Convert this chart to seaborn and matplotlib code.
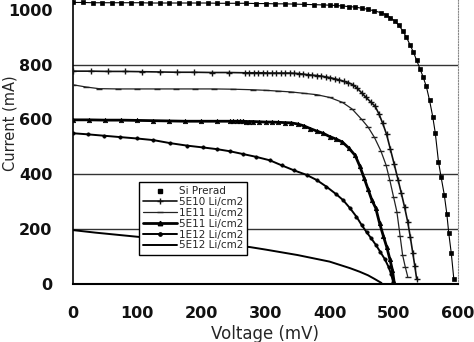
import matplotlib
matplotlib.use("Agg")
import matplotlib.pyplot as plt
from matplotlib.lines import Line2D
import seaborn as sns
import pandas as pd

# ---------------- data ----------------
labels = ["Si Prerad", "5E10 Li/cm2", "1E11 Li/cm2", "5E11 Li/cm2", "1E12 Li/cm2", "5E12 Li/cm2"]

v_si = [0, 15, 30, 45, 60, 75, 90, 105, 120, 135, 150, 165, 180, 195, 210, 225, 240, 255, 270, 285, 300,
        315, 330, 345, 360, 375, 390, 400, 410, 420, 430, 440, 450, 460, 470, 480, 488, 495, 502, 508,
        514, 520, 526, 531, 536, 541, 546, 551, 556, 561, 565, 570, 574, 579, 583, 586, 590, 594]
i_si = [1027, 1027, 1026, 1026, 1026, 1026, 1026, 1026, 1025, 1025, 1025, 1025, 1025, 1025, 1025, 1024,
        1024, 1024, 1024, 1023, 1023, 1022, 1022, 1021, 1020, 1019, 1018, 1017, 1016, 1014, 1012, 1010,
        1006, 1002, 996, 990, 982, 972, 958, 944, 924, 900, 870, 845, 815, 785, 755, 720, 670, 610, 550,
        445, 390, 325, 255, 185, 110, 15]

v_5e10 = [0, 27, 54, 81, 108, 135, 162, 189, 216, 243, 268, 275, 282, 289, 296, 303, 310, 317, 324, 331,
          338, 345, 352, 359, 366, 373, 380, 387, 394, 401, 408, 415, 422, 429, 436, 443, 450, 457, 464,
          471, 477, 483, 489, 495, 501, 507, 512, 517, 522, 526, 530, 533, 536]
i_5e10 = [776, 776, 775, 775, 774, 773, 772, 772, 771, 771, 770, 770, 770, 770, 770, 769, 769, 769, 769,
          769, 769, 768, 767, 765, 763, 761, 760, 758, 755, 752, 748, 744, 739, 734, 727, 714, 697, 680,
          664, 648, 620, 585, 545, 490, 435, 378, 330, 280, 225, 170, 110, 65, 16]

v_1e11 = [0, 20, 40, 70, 100, 130, 160, 190, 220, 250, 280, 300, 320, 340, 360, 380, 400, 420, 435, 450,
          460, 470, 480, 488, 494, 500, 505, 510, 514, 518, 522]
i_1e11 = [726, 718, 712, 711, 711, 711, 711, 711, 711, 710, 708, 706, 703, 700, 695, 690, 680, 662, 638,
          600, 572, 534, 485, 434, 378, 315, 263, 175, 104, 62, 25]

v_5e11 = [0, 25, 50, 75, 100, 125, 150, 175, 200, 225, 245, 250, 255, 260, 265, 270, 275, 280, 290, 300,
          310, 320, 330, 340, 350, 360, 370, 380, 390, 400, 410, 420, 430, 440, 447, 454, 460, 466, 472,
          478, 484, 489, 494, 498, 501]
i_5e11 = [598, 598, 597, 597, 596, 595, 594, 593, 593, 593, 593, 593, 593, 593, 593, 592, 592, 592, 591,
          590, 590, 589, 588, 587, 583, 576, 566, 557, 549, 537, 528, 517, 495, 468, 430, 385, 345, 305,
          276, 221, 173, 135, 90, 50, 2]

v_1e12 = [0, 23, 48, 73, 99, 125, 151, 177, 203, 224, 245, 265, 285, 307, 325, 345, 364, 380, 395, 410,
          421, 432, 442, 450, 458, 465, 472, 479, 486, 492, 496, 499]
i_1e12 = [549, 545, 540, 535, 530, 524, 513, 504, 497, 491, 483, 473, 463, 450, 432, 413, 397, 378, 354,
          327, 305, 275, 244, 214, 187, 165, 142, 116, 90, 61, 35, 7]

v_5e12 = [0, 34, 73, 99, 150, 200, 250, 276, 300, 350, 400, 432, 447, 460, 470, 481]
i_5e12 = [195, 186, 177, 171, 160, 150, 140, 133, 124, 104, 80, 56, 43, 30, 17, 2]

x_ticks = [0, 100, 200, 300, 400, 500, 600]
y_ticks = [0, 200, 400, 600, 800, 1000]
grid_levels = [200, 400, 800]

# ---------------- figure ----------------
sns.set_style("white")
plt.rcParams["font.family"] = ["DejaVu Sans"]

fig = plt.figure(figsize=(4.74, 3.42), dpi=100)
ax = fig.add_axes([73.3 / 474, 1 - 283.5 / 342, (457.7 - 73.3) / 474, 283.5 / 342])

for g in grid_levels:
    ax.axhline(g, color="#333333", lw=1.0, zorder=1)

styles = [
    dict(color="black", lw=0.8, marker="s", markersize=3.2, markeredgecolor="black",
         markerfacecolor="black", markeredgewidth=0.5),
    dict(color="#111111", lw=1.2, marker="+", markersize=5, markeredgewidth=1.0,
         markeredgecolor="#111111"),
    dict(color="#222222", lw=0.9, marker="_", markersize=4, markeredgewidth=1.0,
         markeredgecolor="#222222"),
    dict(color="black", lw=2.0, marker="^", markersize=3.2, markeredgecolor="black",
         markerfacecolor="black", markeredgewidth=0.5),
    dict(color="black", lw=1.4, marker="o", markersize=2.4, markeredgecolor="black",
         markerfacecolor="black", markeredgewidth=0.5),
    dict(color="black", lw=1.4),
]
data = [(v_si, i_si), (v_5e10, i_5e10), (v_1e11, i_1e11), (v_5e11, i_5e11),
        (v_1e12, i_1e12), (v_5e12, i_5e12)]

for (v, c), kw in zip(data, styles):
    df = pd.DataFrame({"Voltage": v, "Current": c})
    sns.lineplot(data=df, x="Voltage", y="Current", ax=ax, sort=False, zorder=3, **kw)

ax.set_xlim(0, 600)
ax.set_ylim(0, 1036)
ax.set_xticks(x_ticks)
ax.set_yticks(y_ticks)
ax.tick_params(axis="both", direction="out", length=5, width=1, color="black",
               labelsize=11.5, pad=10)
ax.tick_params(axis="x", pad=11)
for t in ax.get_xticklabels() + ax.get_yticklabels():
    t.set_fontweight("bold")
    t.set_color("#111111")

ax.spines["top"].set_visible(False)
ax.spines["right"].set_linestyle((0, (1, 1.5)))
ax.spines["right"].set_color("#888888")
ax.spines["right"].set_linewidth(0.8)
ax.spines["left"].set_color("black")
ax.spines["left"].set_linewidth(1.2)
ax.spines["bottom"].set_color("black")
ax.spines["bottom"].set_linewidth(1.5)

ax.set_xlabel("Voltage (mV)", fontsize=12)
ax.set_ylabel("Current (mA)", fontsize=10.5)
ax.xaxis.set_label_coords(0.499, -0.145)
ax.yaxis.set_label_coords(-0.146, 0.564)

handles = [
    Line2D([], [], ls="none", marker="s", markersize=3.2, color="black"),
    Line2D([], [], color="#111111", lw=1.2, marker="+", markersize=5, mew=1.0),
    Line2D([], [], color="#222222", lw=0.9, marker="_", markersize=4, mew=1.0),
    Line2D([], [], color="black", lw=2.0, marker="^", markersize=3.2),
    Line2D([], [], color="black", lw=1.4, marker="o", markersize=2.4),
    Line2D([], [], color="black", lw=1.4),
]
leg = ax.legend(handles, labels, loc="upper left", bbox_to_anchor=(0.171, 0.358),
                borderaxespad=0, fontsize=7.5, frameon=True, fancybox=False,
                edgecolor="black", framealpha=1, handlelength=3.2, handletextpad=0.2,
                labelspacing=0.08, borderpad=0.4, numpoints=1)
leg.get_frame().set_linewidth(1.0)
leg.set_zorder(5)

fig.savefig("out.png", dpi=100)
